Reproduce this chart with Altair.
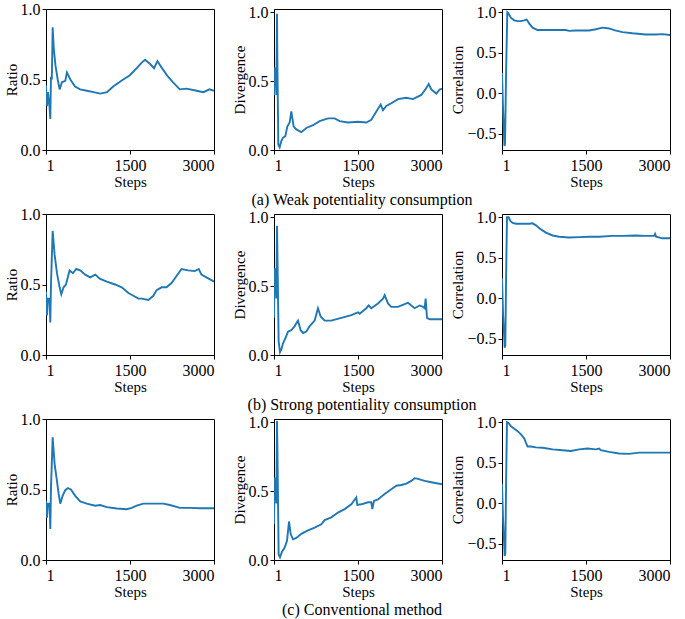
import altair as alt
import pandas as pd

FONT = "Liberation Serif, Times New Roman, serif"
BLUE = "#1f77b4"

# ---------- (a) Weak potentiality consumption ----------
ratio_a_steps = [1, 10, 20, 35, 50, 65, 78, 90, 105, 120, 140, 170, 210, 245, 285, 345, 375, 435, 520, 610, 730, 850, 970, 1090, 1200, 1380, 1500, 1620, 1710, 1770, 1860, 1930, 1990, 2090, 2180, 2270, 2390, 2510, 2690, 2810, 2920, 3000]
ratio_a_vals = [0.46, 0.38, 0.31, 0.41, 0.36, 0.30, 0.22, 0.52, 0.50, 0.87, 0.72, 0.60, 0.50, 0.43, 0.48, 0.49, 0.55, 0.50, 0.45, 0.43, 0.42, 0.41, 0.40, 0.41, 0.45, 0.50, 0.53, 0.58, 0.62, 0.64, 0.61, 0.58, 0.63, 0.57, 0.52, 0.48, 0.43, 0.435, 0.42, 0.41, 0.43, 0.42]

div_a_steps = [1, 13, 25, 31, 43, 55, 60, 78, 102, 132, 162, 203, 239, 281, 310, 352, 400, 489, 578, 697, 816, 965, 1084, 1173, 1322, 1500, 1649, 1738, 1828, 1905, 1947, 2006, 2095, 2214, 2363, 2482, 2631, 2720, 2762, 2810, 2899, 2958, 3000]
div_a_vals = [0.40, 0.60, 0.49, 0.60, 0.40, 0.99, 0.69, 0.04, 0.02, 0.065, 0.09, 0.10, 0.17, 0.20, 0.28, 0.17, 0.15, 0.13, 0.16, 0.18, 0.21, 0.23, 0.23, 0.21, 0.20, 0.205, 0.20, 0.22, 0.28, 0.33, 0.29, 0.32, 0.34, 0.37, 0.38, 0.37, 0.40, 0.45, 0.48, 0.44, 0.41, 0.44, 0.445]

corr_a_steps = [1, 20, 45, 55, 75, 96, 114, 161, 221, 280, 340, 399, 441, 488, 547, 636, 785, 963, 1141, 1200, 1319, 1557, 1676, 1795, 1914, 2003, 2151, 2330, 2567, 2746, 2865, 3000]
corr_a_vals = [0.25, -0.20, -0.65, -0.62, 0.30, 1.00, 0.99, 0.93, 0.90, 0.89, 0.89, 0.90, 0.91, 0.86, 0.81, 0.78, 0.78, 0.78, 0.78, 0.77, 0.775, 0.775, 0.79, 0.81, 0.80, 0.78, 0.755, 0.74, 0.725, 0.725, 0.73, 0.72]

# ---------- (b) Strong potentiality consumption ----------
ratio_b_steps = [1, 19, 37, 66, 78, 90, 120, 155, 197, 244, 274, 315, 357, 422, 481, 541, 612, 701, 790, 879, 968, 1086, 1234, 1353, 1472, 1561, 1650, 1709, 1828, 1917, 1976, 2065, 2153, 2242, 2331, 2420, 2539, 2657, 2728, 2776, 2865, 3000]
ratio_b_vals = [0.45, 0.28, 0.40, 0.40, 0.23, 0.50, 0.88, 0.71, 0.58, 0.48, 0.43, 0.48, 0.50, 0.60, 0.58, 0.61, 0.60, 0.57, 0.55, 0.57, 0.54, 0.52, 0.50, 0.48, 0.44, 0.42, 0.40, 0.40, 0.39, 0.42, 0.46, 0.48, 0.48, 0.51, 0.56, 0.61, 0.60, 0.595, 0.61, 0.57, 0.55, 0.52]

div_b_steps = [1, 13, 25, 31, 43, 55, 66, 84, 108, 132, 162, 203, 251, 310, 370, 429, 477, 519, 578, 638, 727, 786, 834, 905, 1024, 1203, 1381, 1500, 1530, 1649, 1691, 1738, 1857, 1947, 1976, 2036, 2095, 2214, 2333, 2393, 2452, 2512, 2601, 2661, 2690, 2708, 2732, 2780, 2869, 3000]
div_b_vals = [0.27, 0.63, 0.51, 0.63, 0.41, 0.94, 0.63, 0.10, 0.02, 0.04, 0.085, 0.12, 0.17, 0.18, 0.21, 0.25, 0.18, 0.16, 0.17, 0.21, 0.25, 0.34, 0.28, 0.25, 0.25, 0.27, 0.29, 0.31, 0.30, 0.34, 0.36, 0.34, 0.375, 0.41, 0.435, 0.375, 0.35, 0.35, 0.37, 0.38, 0.36, 0.34, 0.36, 0.35, 0.34, 0.41, 0.27, 0.26, 0.26, 0.26]

corr_b_steps = [1, 20, 50, 60, 75, 90, 120, 150, 191, 250, 369, 488, 547, 607, 696, 785, 904, 1022, 1200, 1379, 1557, 1735, 1973, 2151, 2389, 2567, 2716, 2734, 2752, 2865, 3000]
corr_b_vals = [0.25, -0.20, -0.61, -0.58, 0.30, 1.00, 1.00, 0.955, 0.93, 0.92, 0.92, 0.92, 0.925, 0.90, 0.85, 0.81, 0.775, 0.76, 0.75, 0.755, 0.76, 0.76, 0.77, 0.77, 0.775, 0.77, 0.77, 0.795, 0.76, 0.74, 0.74]

# ---------- (c) Conventional method ----------
ratio_c_steps = [1, 19, 37, 66, 78, 90, 120, 155, 197, 226, 256, 298, 345, 392, 446, 523, 612, 730, 879, 968, 1086, 1264, 1442, 1531, 1620, 1739, 1917, 2094, 2213, 2391, 2569, 2747, 3000]
ratio_c_vals = [0.42, 0.30, 0.40, 0.40, 0.22, 0.51, 0.87, 0.68, 0.56, 0.47, 0.40, 0.455, 0.495, 0.51, 0.50, 0.455, 0.415, 0.40, 0.385, 0.39, 0.375, 0.365, 0.36, 0.37, 0.385, 0.40, 0.40, 0.40, 0.39, 0.37, 0.37, 0.367, 0.367]

div_c_steps = [1, 13, 25, 31, 43, 55, 66, 84, 108, 144, 191, 233, 269, 298, 340, 400, 489, 608, 727, 846, 905, 1024, 1143, 1262, 1381, 1470, 1488, 1560, 1679, 1738, 1756, 1786, 1857, 1976, 2095, 2184, 2274, 2363, 2452, 2512, 2571, 2690, 2809, 3000]
div_c_vals = [0.26, 0.60, 0.43, 0.60, 0.41, 1.01, 0.67, 0.04, 0.02, 0.06, 0.09, 0.14, 0.28, 0.19, 0.15, 0.16, 0.19, 0.215, 0.235, 0.26, 0.29, 0.31, 0.345, 0.37, 0.405, 0.455, 0.40, 0.405, 0.42, 0.42, 0.37, 0.43, 0.44, 0.48, 0.515, 0.54, 0.545, 0.555, 0.575, 0.595, 0.59, 0.575, 0.565, 0.55]

corr_c_steps = [1, 20, 49, 60, 75, 90, 120, 161, 221, 280, 340, 399, 429, 458, 518, 607, 726, 904, 1082, 1230, 1379, 1527, 1676, 1735, 1765, 1914, 2092, 2270, 2448, 2627, 2805, 3000]
corr_c_vals = [0.24, -0.20, -0.65, -0.62, 0.30, 1.00, 0.99, 0.95, 0.92, 0.89, 0.85, 0.80, 0.745, 0.70, 0.70, 0.69, 0.685, 0.665, 0.655, 0.645, 0.665, 0.675, 0.665, 0.675, 0.655, 0.635, 0.615, 0.61, 0.625, 0.625, 0.625, 0.625]

captions = ["(a) Weak potentiality consumption",
            "(b) Strong potentiality consumption",
            "(c) Conventional method"]

x_ticks = [1, 1500, 3000]
ratio_ticks = [0.0, 0.5, 1.0]
corr_ticks = [-0.5, 0.0, 0.5, 1.0]


def panel(steps, vals, ytitle, ydomain, yticks, caption=None):
    df = pd.DataFrame({"Steps": steps, "v": vals})
    ch = alt.Chart(df).mark_line(color=BLUE, strokeWidth=1.9, clip=True).encode(
        x=alt.X("Steps:Q",
                scale=alt.Scale(domain=[1, 3000], nice=False, zero=False),
                axis=alt.Axis(values=x_ticks, format="d", title="Steps")),
        y=alt.Y("v:Q",
                scale=alt.Scale(domain=ydomain, nice=False, zero=False),
                axis=alt.Axis(values=yticks, format=".1f", title=ytitle)),
    ).properties(width=168, height=141)
    if caption:
        ch = ch.properties(title=alt.TitleParams(
            caption, orient="bottom", dx=4, offset=3, fontSize=16,
            font=FONT, fontWeight="normal", color="black"))
    return ch


rows = [
    (ratio_a_steps, ratio_a_vals, div_a_steps, div_a_vals, corr_a_steps, corr_a_vals),
    (ratio_b_steps, ratio_b_vals, div_b_steps, div_b_vals, corr_b_steps, corr_b_vals),
    (ratio_c_steps, ratio_c_vals, div_c_steps, div_c_vals, corr_c_steps, corr_c_vals),
]

charts = []
for i, (rs, rv, ds, dv, cs, cv) in enumerate(rows):
    charts.append(panel(rs, rv, "Ratio", [0, 1.0], ratio_ticks))
    charts.append(panel(ds, dv, "Divergence", [0, 1.025], ratio_ticks, captions[i]))
    charts.append(panel(cs, cv, "Correlation", [-0.7, 1.04], corr_ticks))

chart = alt.concat(*charts, columns=3, spacing=alt.RowColnumber(row=64, column=60),
                   bounds="flush").properties(
    padding={"left": 3, "top": 0, "right": 0, "bottom": 0}
).configure_axis(
    labelFont=FONT, titleFont=FONT, labelFontSize=16, titleFontSize=15,
    titleFontWeight="normal", labelColor="black", titleColor="black",
    domainColor="black", tickColor="black", tickSize=4, grid=False,
).configure_axisX(
    labelPadding=3, titlePadding=1,
).configure_axisY(
    labelPadding=2, titlePadding=1,
).configure_view(stroke="black", strokeWidth=1)

chart.save("out.html", embed_options={"renderer": "svg", "actions": False})
